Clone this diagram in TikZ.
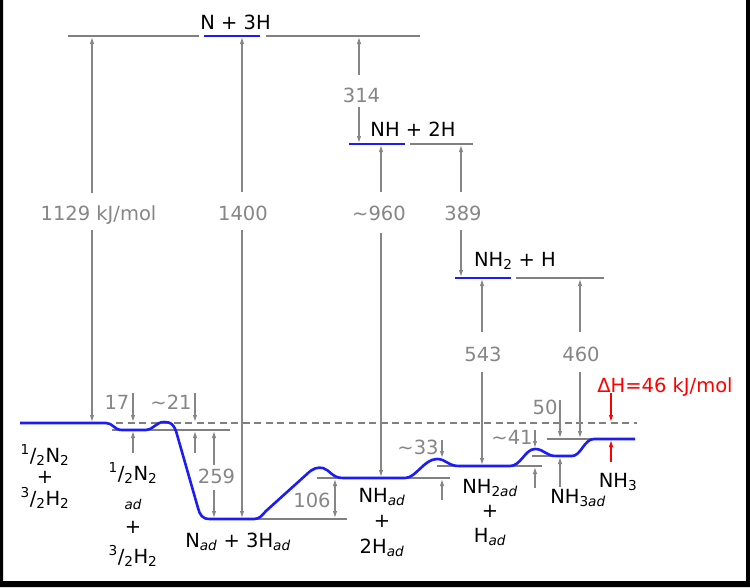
\documentclass[tikz,border=0pt]{standalone}
\usepackage{fontspec}
\setmainfont{DejaVu Sans}
\usetikzlibrary{arrows.meta}
\definecolor{pathblue}{RGB}{28,28,245}
\definecolor{levelgray}{RGB}{128,128,128}
\definecolor{dimgray}{RGB}{134,134,134}
\definecolor{dhred}{RGB}{255,0,0}
\setlength{\lineskiplimit}{-50pt}
\newcommand{\ad}{\textsubscript{\itshape ad}}
\newcommand{\halfN}{\textsuperscript{1}/\textsubscript{2}N\textsubscript{2}}
\newcommand{\threehalfH}{\textsuperscript{3}/\textsubscript{2}H\textsubscript{2}}
\tikzset{
  lvl/.style={draw=levelgray, line width=2.6pt},
  route/.style={draw=pathblue, line width=2.6pt, line join=round},
  dimarrow/.style={draw=dimgray, line width=1.1pt, ->, shorten >=1pt},
  valtext/.style={text=dimgray, inner sep=0pt, anchor=base, text height=14pt, text depth=0pt,
    font=\fontsize{19.5}{22}\selectfont},
  species/.style={text=black, inner sep=0pt, anchor=base, align=center,
    font=\fontsize{19.5}{#1}\selectfont},
  species/.default=24
}

\begin{document}
\begin{tikzpicture}[x=1pt, y=-1pt, >={Latex[length=7pt,width=4.5pt]}]
  \fill[white] (0,0) rectangle (750,587);
  \useasboundingbox (0,0) rectangle (750,587);
  \fill[black] (0,0) rectangle (3,587) (746,0) rectangle (750,587) (0,581) rectangle (750,587);
  \coordinate (Ltop) at (0,36);
  \coordinate (Lnh) at (0,144);
  \coordinate (Lnh2) at (0,278);
  \coordinate (Ldash) at (0,423);
  \coordinate (Ln2ad) at (0,430);
  \coordinate (Lnad) at (0,519);
  \coordinate (Lnhad) at (0,478);
  \coordinate (Lnh2ad) at (0,466);
  \coordinate (Lnh3ad) at (0,456);
  \coordinate (Lnh3) at (0,439);
  \coordinate (Lp2) at (0,459);
  \coordinate (Lp3) at (0,449);

  \draw[levelgray, line width=2.2pt, dash pattern=on 7pt off 4.5pt] (116,423) -- (637,423);
  \draw[lvl] (68,36) -- (199,36) (266,36) -- (420,36) (410,144) -- (473,144) (516,278) -- (604,278);
  \draw[lvl] (112,430) -- (230,430) (205,519) -- (347,519) (317,478) -- (450,478)
    (437,466) -- (542,466) (532,456) -- (575,456) (547,439) -- (595,439);
  \draw[route] (204,36) -- (260,36) (349,144) -- (405,144) (455,278) -- (511,278);
  \draw[route] (20,423) -- (106,423) .. controls (113,423) and (114,430) .. (122,430) -- (146,430)
    .. controls (153,430) and (156,422) .. (164,422) .. controls (171,422) and (173,424) .. (176,431)
    -- (198,508) .. controls (200,515) and (202,519) .. (210,519) -- (254,519)
    .. controls (260,519) and (262,515) .. (266,511) -- (307,474)
    .. controls (313,468) and (318,467) .. (323,468) .. controls (330,470) and (332,478) .. (343,478)
    -- (405,478) .. controls (416,478) and (424,459) .. (437,459) .. controls (446,459) and (448,466) .. (459,466)
    -- (510,466) .. controls (521,466) and (525,449) .. (535,449) .. controls (544,449) and (546,456) .. (556,456)
    -- (572,456) .. controls (581,456) and (584,439) .. (594,439) -- (635,439);

  \node[species] (sN3H) at (235.5,29) {N + 3H};
  \node[species] (sNH2H) at (413,136) {NH + 2H};
  \node[species] (sNH2H1) at (515,266.7) {NH\textsubscript{2} + H};
  \node[species=21.5] (sN2) at (45,505) {\halfN\\+\\\threehalfH};
  \node[species] (sN2adA) at (133,480) {\halfN};
  \node[species, font=\fontsize{13.5}{15}\selectfont\itshape] (sN2adB) at (133,509) {ad};
  \node[species] (sN2adC) at (133,533) {+};
  \node[species] (sN2adD) at (133,563) {\threehalfH};
  \node[species] (sNad) at (238,547) {N\ad{} + 3H\ad};
  \node[species=25.5] (sNHad) at (382,553) {NH\ad\\+\\2H\ad};
  \node[species=24.5] (sNH2ad) at (490,542) {NH\textsubscript{2\itshape ad}\\+\\H\ad};
  \node[species] (sNH3ad) at (578,503) {NH\textsubscript{3\itshape ad}};
  \node[species] (sNH3) at (618,487) {NH\textsubscript{3}};

  \node[valtext] (v1129) at (98.5,220) {1129 kJ/mol};
  \node[valtext] (v1400) at (243,220) {1400};
  \node[valtext] (v314) at (361.5,102) {314};
  \node[valtext] (v960) at (379,220) {\textasciitilde960};
  \node[valtext] (v389) at (463,220) {389};
  \node[valtext] (v543) at (483,361) {543};
  \node[valtext] (v460) at (581,361) {460};
  \node[valtext] (v259) at (216.5,483) {259};
  \node[valtext] (v106) at (312,507.7) {106};
  \node[valtext] (v17) at (117,409) {17};
  \node[valtext] (v21) at (171,409) {\textasciitilde21};
  \node[valtext] (v33) at (418,454) {\textasciitilde33};
  \node[valtext] (v41) at (512,444) {\textasciitilde41};
  \node[valtext] (v50) at (545,414) {50};
  \node[valtext, text=dhred] (vdH) at (665,392) {ΔH=46 kJ/mol};

  \foreach \v/\x/\t/\b/\gt/\gb in {1129/92/Ltop/Ldash/13/10, 1400/242/Ltop/Lnad/14/10,
      314/359/Ltop/Lnh/13/5, 960/381/Lnh/Lnhad/14/13, 389/461/Lnh/Lnh2/14/10,
      543/482/Lnh2/Lnh2ad/15/11, 460/580/Lnh2/Lnh3/15/11, 259/214/Ln2ad/Lnad/4/7}{
    \coordinate (x\v) at (\x,0);
    \draw[dimarrow, shorten <=\gt pt] (v\v.north -| x\v) -- (x\v |- \t);
    \draw[dimarrow, shorten <=\gb pt] (v\v.south -| x\v) -- (x\v |- \b);
  }
  \coordinate (x106) at (335,0);
  \draw[dimarrow, <->, shorten <=1pt] (x106 |- Lnhad) -- (x106 |- Lnad);

  \foreach \n/\x/\t/\l/\b/\lb in {17/133/393/Ldash/453/Ln2ad, 21/195/393/Ldash/453/Ln2ad,
      33/442/440/Lp2/500/Lnhad, 41/535/430/Lp3/488/Lnh2ad, 50/560/400/Lnh3/487/Lnh3ad}{
    \coordinate (t\n) at (\x,\t);
    \coordinate (b\n) at (\x,\b);
    \draw[dimarrow] (t\n) -- (t\n |- \l);
    \draw[dimarrow] (b\n) -- (b\n |- \lb);
  }
  \coordinate (tdH) at (611,393);
  \coordinate (bdH) at (611,462);
  \draw[dimarrow, draw=dhred] (tdH) -- (tdH |- Ldash);
  \draw[dimarrow, draw=dhred] (bdH) -- (bdH |- Lnh3);
\end{tikzpicture}
\end{document}
